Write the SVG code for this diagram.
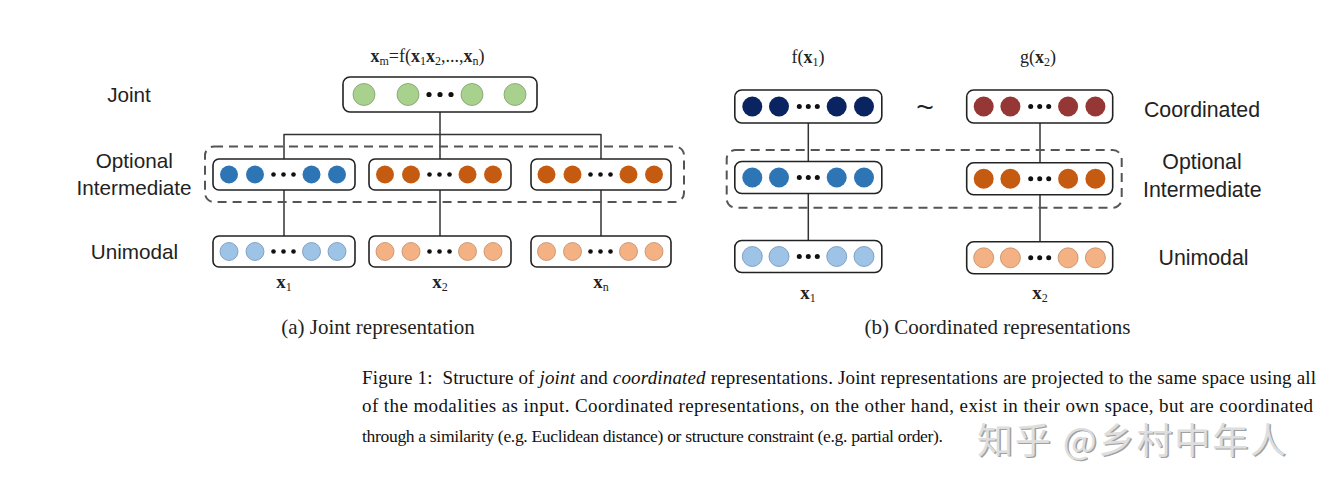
<svg xmlns="http://www.w3.org/2000/svg" width="1331" height="492" viewBox="0 0 1331 492">
<style>
.bg{fill:#ffffff}
.box{fill:#ffffff;stroke:#222;stroke-width:1.6}
.dash{fill:none;stroke:#555;stroke-width:2;stroke-dasharray:9 6}
.ln{stroke:#333;stroke-width:1.5;fill:none}
.dot{fill:#111}
.g{fill:#a9d18e;stroke:#7f9c6c;stroke-width:0.8}
.b{fill:#2e75b6}
.o{fill:#c55a11}
.lb{fill:#9dc3e6;stroke:#7392b5;stroke-width:0.8}
.lo{fill:#f4b183;stroke:#c08a66;stroke-width:0.8}
.nv{fill:#0a2461}
.mr{fill:#953735}
.lab{font-family:"Liberation Sans","Open Sans",sans-serif;fill:#222;text-anchor:middle}
.math{font-family:"Liberation Serif",serif;fill:#222;text-anchor:middle}
.mb{font-weight:bold}
.sub{font-size:12px;font-weight:normal}
.cap{font-family:"Liberation Serif",serif;fill:#111;font-size:19px}
.cap3{font-family:"Liberation Serif",serif;fill:#111;font-size:17.6px}
.sc{font-family:"Liberation Serif",serif;fill:#222;font-size:21px;text-anchor:middle}
.wm{font-family:"Noto Sans CJK SC",sans-serif;font-size:36px}
</style>
<rect class="bg" x="0" y="0" width="1331" height="492"/>

<!-- connectors -->
<g id="connectors">
  <line class="ln" x1="440" y1="112" x2="440" y2="159"/>
  <line class="ln" x1="283.5" y1="134.5" x2="601.5" y2="134.5"/>
  <line class="ln" x1="284" y1="134.5" x2="284" y2="159"/>
  <line class="ln" x1="601" y1="134.5" x2="601" y2="159"/>
  <line class="ln" x1="284" y1="190" x2="284" y2="236"/>
  <line class="ln" x1="440" y1="190" x2="440" y2="236"/>
  <line class="ln" x1="601" y1="190" x2="601" y2="236"/>
  <line class="ln" x1="808.3" y1="123" x2="808.3" y2="162"/>
  <line class="ln" x1="808.3" y1="194" x2="808.3" y2="241"/>
  <line class="ln" x1="1040" y1="123" x2="1040" y2="162"/>
  <line class="ln" x1="1040" y1="194" x2="1040" y2="241"/>
</g>

<!-- dashed groups -->
<rect class="dash" x="205" y="146.5" width="479" height="55.5" rx="9"/>
<rect class="dash" x="726.7" y="150" width="395" height="57.7" rx="9"/>

<!-- (a) joint -->
<g id="joint" transform="translate(440,94.5)">
  <rect class="box" x="-97" y="-17.5" width="194" height="35" rx="7"/>
  <circle class="g" cx="-76" cy="0" r="11"/><circle class="g" cx="-32" cy="0" r="11"/>
  <circle class="g" cx="32" cy="0" r="11"/><circle class="g" cx="75" cy="0" r="11"/>
  <circle class="dot" cx="-11" cy="0" r="2.6"/><circle class="dot" cx="0" cy="0" r="2.6"/><circle class="dot" cx="11" cy="0" r="2.6"/>
</g>
<g id="a-int1" transform="translate(284,174.5)">
  <rect class="box" x="-71" y="-15.5" width="142" height="31" rx="6"/>
  <circle class="b" cx="-55" cy="0" r="9"/><circle class="b" cx="-29" cy="0" r="9"/>
  <circle class="b" cx="27.5" cy="0" r="9"/><circle class="b" cx="53" cy="0" r="9"/>
  <circle class="dot" cx="-10.5" cy="0" r="2.3"/><circle class="dot" cx="-0.5" cy="0" r="2.3"/><circle class="dot" cx="9.5" cy="0" r="2.3"/>
</g>
<g id="a-int2" transform="translate(440,174.5)">
  <rect class="box" x="-71" y="-15.5" width="142" height="31" rx="6"/>
  <circle class="o" cx="-55" cy="0" r="9"/><circle class="o" cx="-29" cy="0" r="9"/>
  <circle class="o" cx="27.5" cy="0" r="9"/><circle class="o" cx="53" cy="0" r="9"/>
  <circle class="dot" cx="-10.5" cy="0" r="2.3"/><circle class="dot" cx="-0.5" cy="0" r="2.3"/><circle class="dot" cx="9.5" cy="0" r="2.3"/>
</g>
<g id="a-int3" transform="translate(601,174.5)">
  <rect class="box" x="-70" y="-15.5" width="140" height="31" rx="6"/>
  <circle class="o" cx="-54.5" cy="0" r="9"/><circle class="o" cx="-28.5" cy="0" r="9"/>
  <circle class="o" cx="27.5" cy="0" r="9"/><circle class="o" cx="53" cy="0" r="9"/>
  <circle class="dot" cx="-10.5" cy="0" r="2.3"/><circle class="dot" cx="-0.5" cy="0" r="2.3"/><circle class="dot" cx="9.5" cy="0" r="2.3"/>
</g>
<g id="a-uni1" transform="translate(284,251.5)">
  <rect class="box" x="-71" y="-15.5" width="142" height="31" rx="6"/>
  <circle class="lb" cx="-55" cy="0" r="9"/><circle class="lb" cx="-29" cy="0" r="9"/>
  <circle class="lb" cx="27.5" cy="0" r="9"/><circle class="lb" cx="53" cy="0" r="9"/>
  <circle class="dot" cx="-10.5" cy="0" r="2.3"/><circle class="dot" cx="-0.5" cy="0" r="2.3"/><circle class="dot" cx="9.5" cy="0" r="2.3"/>
</g>
<g id="a-uni2" transform="translate(440,251.5)">
  <rect class="box" x="-71" y="-15.5" width="142" height="31" rx="6"/>
  <circle class="lo" cx="-55" cy="0" r="9"/><circle class="lo" cx="-29" cy="0" r="9"/>
  <circle class="lo" cx="27.5" cy="0" r="9"/><circle class="lo" cx="53" cy="0" r="9"/>
  <circle class="dot" cx="-10.5" cy="0" r="2.3"/><circle class="dot" cx="-0.5" cy="0" r="2.3"/><circle class="dot" cx="9.5" cy="0" r="2.3"/>
</g>
<g id="a-uni3" transform="translate(601,251.5)">
  <rect class="box" x="-70" y="-15.5" width="140" height="31" rx="6"/>
  <circle class="lo" cx="-54.5" cy="0" r="9"/><circle class="lo" cx="-28.5" cy="0" r="9"/>
  <circle class="lo" cx="27.5" cy="0" r="9"/><circle class="lo" cx="53" cy="0" r="9"/>
  <circle class="dot" cx="-10.5" cy="0" r="2.3"/><circle class="dot" cx="-0.5" cy="0" r="2.3"/><circle class="dot" cx="9.5" cy="0" r="2.3"/>
</g>

<!-- (b) coordinated -->
<g id="b-coord1" transform="translate(808.3,106.5)">
  <rect class="box" x="-73.5" y="-16.5" width="147" height="33" rx="7"/>
  <circle class="nv" cx="-56" cy="0" r="10"/><circle class="nv" cx="-29.3" cy="0" r="10"/>
  <circle class="nv" cx="28.4" cy="0" r="10"/><circle class="nv" cx="55.7" cy="0" r="10"/>
  <circle class="dot" cx="-9" cy="0" r="2.5"/><circle class="dot" cx="0" cy="0" r="2.5"/><circle class="dot" cx="9" cy="0" r="2.5"/>
</g>
<g id="b-coord2" transform="translate(1039.7,106.5)">
  <rect class="box" x="-73" y="-16.5" width="146" height="33" rx="7"/>
  <circle class="mr" cx="-56" cy="0" r="10"/><circle class="mr" cx="-29.3" cy="0" r="10"/>
  <circle class="mr" cx="28.4" cy="0" r="10"/><circle class="mr" cx="55.7" cy="0" r="10"/>
  <circle class="dot" cx="-9" cy="0" r="2.5"/><circle class="dot" cx="0" cy="0" r="2.5"/><circle class="dot" cx="9" cy="0" r="2.5"/>
</g>
<g id="b-int1" transform="translate(808.3,177.5)">
  <rect class="box" x="-73.5" y="-16" width="147" height="32" rx="7"/>
  <circle class="b" cx="-56" cy="0" r="10"/><circle class="b" cx="-29.3" cy="0" r="10"/>
  <circle class="b" cx="28.4" cy="0" r="10"/><circle class="b" cx="55.7" cy="0" r="10"/>
  <circle class="dot" cx="-9" cy="0" r="2.5"/><circle class="dot" cx="0" cy="0" r="2.5"/><circle class="dot" cx="9" cy="0" r="2.5"/>
</g>
<g id="b-int2" transform="translate(1039.7,178.8)">
  <rect class="box" x="-73" y="-16" width="146" height="32" rx="7"/>
  <circle class="o" cx="-56" cy="0" r="10"/><circle class="o" cx="-29.3" cy="0" r="10"/>
  <circle class="o" cx="28.4" cy="0" r="10"/><circle class="o" cx="55.7" cy="0" r="10"/>
  <circle class="dot" cx="-9" cy="0" r="2.5"/><circle class="dot" cx="0" cy="0" r="2.5"/><circle class="dot" cx="9" cy="0" r="2.5"/>
</g>
<g id="b-uni1" transform="translate(808.3,256.5)">
  <rect class="box" x="-73.5" y="-16" width="147" height="32" rx="7"/>
  <circle class="lb" cx="-56" cy="0" r="10"/><circle class="lb" cx="-29.3" cy="0" r="10"/>
  <circle class="lb" cx="28.4" cy="0" r="10"/><circle class="lb" cx="55.7" cy="0" r="10"/>
  <circle class="dot" cx="-9" cy="0" r="2.5"/><circle class="dot" cx="0" cy="0" r="2.5"/><circle class="dot" cx="9" cy="0" r="2.5"/>
</g>
<g id="b-uni2" transform="translate(1039.7,257.8)">
  <rect class="box" x="-73" y="-16" width="146" height="32" rx="7"/>
  <circle class="lo" cx="-56" cy="0" r="10"/><circle class="lo" cx="-29.3" cy="0" r="10"/>
  <circle class="lo" cx="28.4" cy="0" r="10"/><circle class="lo" cx="55.7" cy="0" r="10"/>
  <circle class="dot" cx="-9" cy="0" r="2.5"/><circle class="dot" cx="0" cy="0" r="2.5"/><circle class="dot" cx="9" cy="0" r="2.5"/>
</g>

<!-- row labels -->
<g id="labels">
  <text class="lab" x="129" y="101.7" font-size="20.7">Joint</text>
  <text class="lab" x="134.3" y="168.3" font-size="20.7">Optional</text>
  <text class="lab" x="134" y="195" font-size="20.7">Intermediate</text>
  <text class="lab" x="134.5" y="258.5" font-size="20.7">Unimodal</text>
  <text class="lab" x="1202" y="116.7" font-size="21.3">Coordinated</text>
  <text class="lab" x="1202" y="169.3" font-size="21.3">Optional</text>
  <text class="lab" x="1202.3" y="196.7" font-size="21.3">Intermediate</text>
  <text class="lab" x="1203.5" y="265" font-size="21.3">Unimodal</text>
  <text class="lab" x="925" y="117" font-size="30">~</text>
</g>

<!-- math labels -->
<g id="math">
  <text class="math" x="427.5" y="61.7" font-size="18"><tspan class="mb">x</tspan><tspan class="sub" dy="3">m</tspan><tspan dy="-3">=f(</tspan><tspan class="mb">x</tspan><tspan class="sub" dy="3">1</tspan><tspan class="mb" dy="-3">x</tspan><tspan class="sub" dy="3">2</tspan><tspan dy="-3">,...,</tspan><tspan class="mb">x</tspan><tspan class="sub" dy="3">n</tspan><tspan dy="-3">)</tspan></text>
  <text class="math" x="808" y="63" font-size="18">f(<tspan class="mb">x</tspan><tspan class="sub" dy="3">1</tspan><tspan dy="-3">)</tspan></text>
  <text class="math" x="1038" y="63" font-size="18">g(<tspan class="mb">x</tspan><tspan class="sub" dy="3">2</tspan><tspan dy="-3">)</tspan></text>
  <text class="math" x="284" y="288" font-size="19"><tspan class="mb">x</tspan><tspan class="sub" dy="3">1</tspan></text>
  <text class="math" x="440" y="288" font-size="19"><tspan class="mb">x</tspan><tspan class="sub" dy="3">2</tspan></text>
  <text class="math" x="601" y="288" font-size="19"><tspan class="mb">x</tspan><tspan class="sub" dy="3">n</tspan></text>
  <text class="math" x="808" y="299" font-size="19"><tspan class="mb">x</tspan><tspan class="sub" dy="3">1</tspan></text>
  <text class="math" x="1040" y="299" font-size="19"><tspan class="mb">x</tspan><tspan class="sub" dy="3">2</tspan></text>
</g>

<!-- sub captions -->
<text class="sc" x="378" y="334">(a) Joint representation</text>
<text class="sc" x="997.5" y="334">(b) Coordinated representations</text>

<!-- caption -->
<g id="caption">
  <text class="cap" x="362" y="383.5" textLength="954" lengthAdjust="spacing" xml:space="preserve">Figure 1:  Structure of <tspan font-style="italic">joint</tspan> and <tspan font-style="italic">coordinated</tspan> representations. Joint representations are projected to the same space using all</text>
  <text class="cap" x="362" y="411.7" textLength="951" lengthAdjust="spacing">of the modalities as input. Coordinated representations, on the other hand, exist in their own space, but are coordinated</text>
  <text class="cap3" x="362" y="441.5" textLength="581" lengthAdjust="spacing">through a similarity (e.g. Euclidean distance) or structure constraint (e.g. partial order).</text>
</g>

<!-- watermark -->
<g id="watermark">
  <text class="wm" x="978.5" y="455" fill="#a0a0a0" textLength="309" lengthAdjust="spacing">知乎 @乡村中年人</text>
  <text class="wm" x="977" y="453.5" fill="#dedede" textLength="309" lengthAdjust="spacing">知乎 @乡村中年人</text>
</g>
</svg>
